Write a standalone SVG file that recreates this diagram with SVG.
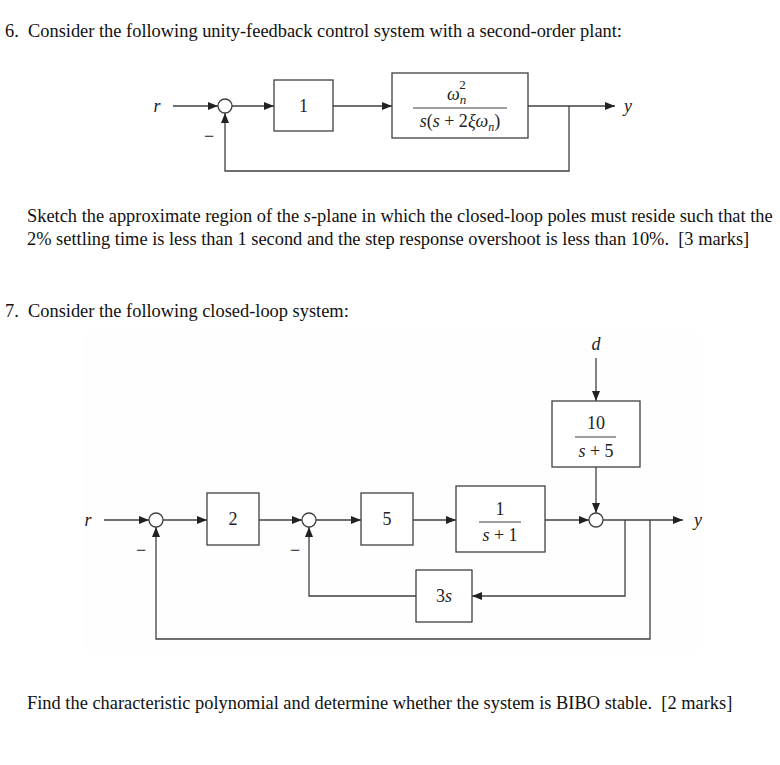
<svg xmlns="http://www.w3.org/2000/svg" width="780" height="765" viewBox="0 0 780 765">
<defs>
<marker id="ah" markerUnits="userSpaceOnUse" markerWidth="11" markerHeight="9" refX="10" refY="4" orient="auto">
<path d="M0,0 L10,4 L0,8 z" fill="#222"/>
</marker>
<style>
.txt{font-family:"Liberation Serif","Times New Roman",serif;font-size:18.4px;fill:#111;white-space:pre}
.m{font-family:"Liberation Serif","DejaVu Serif",serif;font-size:18px;fill:#222}
.i{font-style:italic}
.blk{fill:#fff;stroke:#404040;stroke-width:1.3}
.sum{fill:#fff;stroke:#404040;stroke-width:1.3}
.ln{fill:none;stroke:#404040;stroke-width:1.3}
.ar{marker-end:url(#ah)}
.fr{stroke:#404040;stroke-width:1.2}
</style>
</defs>
<rect width="780" height="765" fill="#fff"/>
<rect x="84" y="334" width="618" height="316" fill="#fefefe"/>

<g id="texts">
<text class="txt" x="5" y="37" xml:space="preserve">6.  Consider the following unity-feedback control system with a second-order plant:</text>
<text class="txt" x="27" y="222">Sketch the approximate region of the <tspan font-style="italic">s</tspan>-plane in which the closed-loop poles must reside such that the</text>
<text class="txt" x="27" y="245" xml:space="preserve">2% settling time is less than 1 second and the step response overshoot is less than 10%.  [3 marks]</text>
<text class="txt" x="5" y="317" xml:space="preserve">7.  Consider the following closed-loop system:</text>
<text class="txt" x="27" y="709" xml:space="preserve">Find the characteristic polynomial and determine whether the system is BIBO stable.  [2 marks]</text>
</g>

<!-- Diagram 1 -->
<g id="connectors1">
<path class="ln ar" d="M173,106 H218"/>
<path class="ln ar" d="M232,106 H274"/>
<path class="ln ar" d="M333,106 H392"/>
<path class="ln ar" d="M528,106 H615"/>
<path class="ln ar" d="M569,106 V171 H225 V113"/>
</g>
<g id="d1_r"><text class="m i" x="157" y="112" text-anchor="middle">r</text></g>
<g id="d1_sum"><circle class="sum" cx="225" cy="106" r="7"/><text class="m" x="209" y="142" text-anchor="middle">−</text></g>
<g id="d1_gain"><rect class="blk" x="274" y="80" width="59" height="51"/><text class="m" x="303.5" y="112" text-anchor="middle">1</text></g>
<g id="d1_plant"><rect class="blk" x="392" y="73" width="136" height="65"/>
<text class="m" x="447" y="100" font-size="21"><tspan class="i">ω</tspan><tspan class="i" font-size="13" dy="4">n</tspan><tspan font-size="13" dx="-7" dy="-15">2</tspan></text>
<line class="fr" x1="413" y1="108" x2="507" y2="108"/>
<text class="m" x="460" y="127" text-anchor="middle"><tspan class="i">s</tspan>(<tspan class="i">s</tspan> + 2<tspan class="i">ξω</tspan><tspan class="i" font-size="12" dy="4">n</tspan><tspan dy="-4">)</tspan></text>
</g>
<g id="d1_y"><text class="m i" x="628" y="112" text-anchor="middle">y</text></g>

<!-- Diagram 2 -->
<g id="connectors2">
<path class="ln ar" d="M104,520 H149"/>
<path class="ln ar" d="M163,520 H207"/>
<path class="ln ar" d="M259,520 H302"/>
<path class="ln ar" d="M316,520 H361"/>
<path class="ln ar" d="M413,520 H456"/>
<path class="ln ar" d="M545,520 H589"/>
<path class="ln ar" d="M596,358 V401"/>
<path class="ln ar" d="M596,467 V513"/>
<path class="ln ar" d="M603,520 H683"/>
<path class="ln ar" d="M625,520 V596 H472"/>
<path class="ln ar" d="M416,596 H309 V527"/>
<path class="ln ar" d="M650,520 V639 H156 V527"/>
</g>
<g id="d2_r"><text class="m i" x="88" y="526" text-anchor="middle">r</text></g>
<g id="d2_sum1"><circle class="sum" cx="156" cy="520" r="7"/><text class="m" x="141" y="556" text-anchor="middle">−</text></g>
<g id="d2_k2"><rect class="blk" x="207" y="493" width="52" height="52"/><text class="m" x="233" y="525" text-anchor="middle">2</text></g>
<g id="d2_sum2"><circle class="sum" cx="309" cy="520" r="7"/><text class="m" x="295" y="556" text-anchor="middle">−</text></g>
<g id="d2_k5"><rect class="blk" x="361" y="493" width="52" height="52"/><text class="m" x="387" y="525" text-anchor="middle">5</text></g>
<g id="d2_plant"><rect class="blk" x="456" y="486" width="89" height="66"/>
<text class="m" x="500" y="515" text-anchor="middle">1</text>
<line class="fr" x1="479" y1="522" x2="521" y2="522"/>
<text class="m" x="500" y="541" text-anchor="middle"><tspan class="i">s</tspan> + 1</text>
</g>
<g id="d2_sum3"><circle class="sum" cx="596" cy="520" r="7"/></g>
<g id="d2_d"><text class="m i" x="596" y="350" text-anchor="middle">d</text></g>
<g id="d2_dist"><rect class="blk" x="552" y="401" width="88" height="66"/>
<text class="m" x="596" y="429" text-anchor="middle">10</text>
<line class="fr" x1="575" y1="437" x2="616" y2="437"/>
<text class="m" x="596" y="457" text-anchor="middle"><tspan class="i">s</tspan> + 5</text>
</g>
<g id="d2_y"><text class="m i" x="698" y="526" text-anchor="middle">y</text></g>
<g id="d2_3s"><rect class="blk" x="416" y="570" width="56" height="52"/><text class="m" x="444" y="602" text-anchor="middle">3<tspan class="i">s</tspan></text></g>
</svg>
